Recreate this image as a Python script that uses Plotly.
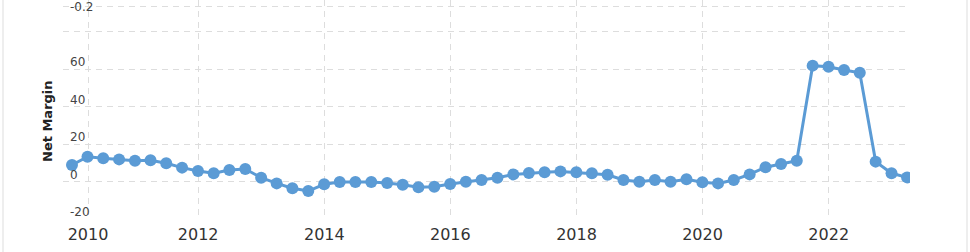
import plotly.graph_objects as go
import pandas as pd

# ---- data ----
dates = pd.date_range("2009-12-31", "2023-03-31", freq="QE").strftime("%Y-%m-%d").tolist()
net_margin = [
    8.8, 13.2, 12.4, 11.8, 11.1, 11.3, 9.7, 7.4, 5.6, 4.4, 6.1, 6.7, 2.0, -1.0,
    -3.6, -5.1, -1.5, -0.3, -0.3, -0.3, -0.8, -1.7, -3.1, -2.8, -1.3, -0.1, 0.8,
    2.0, 3.8, 4.5, 4.9, 5.4, 4.9, 4.4, 3.6, 0.8, -0.1, 0.8, -0.1, 1.2, -0.4, -1.0,
    0.8, 3.8, 7.6, 9.3, 11.1, 61.8, 61.2, 59.5, 58.0, 10.6, 4.4, 2.2,
]
x_tick_vals = ["2010-04-03", "2012-01-01", "2014-01-01", "2016-01-01",
               "2018-01-01", "2020-01-01", "2022-01-01"]
x_tick_text = ["2010", "2012", "2014", "2016", "2018", "2020", "2022"]
y_tick_vals = [-20, 0, 20, 40, 60, 80, 93.6]
y_tick_text = ["-20", "0", "20", "40", "60", "", "-0.2"]

W, H = 970, 252
L, R, T, B = 63, 910, 0, 219   # plot area in pixels
PW, PH = R - L, B - T

def px_x(p):
    return (p - L) / PW

def px_y(p):
    return (B - p) / PH

fig = go.Figure()
fig.add_trace(go.Scatter(
    x=dates, y=net_margin, mode="lines+markers",
    line=dict(color="#5b9bd5", width=3),
    marker=dict(color="#5b9bd5", size=12),
    hoverinfo="x+y",
))

annotations = []
for v, t in zip(y_tick_vals, y_tick_text):
    if not t:
        continue
    if v == y_tick_vals[-1]:
        # top label: keep it fully inside the page
        annotations.append(dict(
            x=px_x(68), xref="paper", xanchor="left",
            y=1, yref="paper", yanchor="top", yshift=2,
            text=t, showarrow=False,
            font=dict(family="DejaVu Sans", size=12, color="#444444"),
        ))
    else:
        annotations.append(dict(
            x=px_x(68), xref="paper", xanchor="left",
            y=v, yref="y", yanchor="middle", yshift=7,
            text=t, showarrow=False,
            font=dict(family="DejaVu Sans", size=12, color="#444444"),
        ))
annotations.append(dict(
    x=px_x(47), xref="paper", xanchor="center",
    y=px_y(121), yref="paper", yanchor="middle",
    text="<b>Net Margin</b>", textangle=-90, showarrow=False,
    font=dict(family="DejaVu Sans", size=13, color="#222222"),
))

shapes = [
    dict(type="line", xref="paper", yref="paper", x0=px_x(3), x1=px_x(3),
         y0=px_y(0), y1=px_y(H), line=dict(color="#dddddd", width=1)),
    dict(type="line", xref="paper", yref="paper", x0=px_x(967), x1=px_x(967),
         y0=px_y(0), y1=px_y(H), line=dict(color="#dddddd", width=1)),
]

fig.update_layout(
    width=W, height=H,
    margin=dict(l=L, r=W - R, t=T, b=H - B),
    paper_bgcolor="white", plot_bgcolor="white",
    showlegend=False,
    annotations=annotations,
    shapes=shapes,
    xaxis=dict(
        type="date",
        range=["2009-11-09", "2023-04-17"],
        tickmode="array", tickvals=x_tick_vals, ticktext=x_tick_text,
        showgrid=True, gridcolor="#dddddd", griddash="6px,5px", gridwidth=1,
        zeroline=False, showline=False, ticks="",
        tickfont=dict(family="DejaVu Sans", size=16, color="#333333"),
        ticklabelstandoff=4,
    ),
    yaxis=dict(
        range=[-20, (B - T) / 1.875 - 20],
        tickmode="array", tickvals=y_tick_vals,
        showticklabels=False,
        showgrid=True, gridcolor="#dddddd", griddash="6px,5px", gridwidth=1,
        zeroline=False, showline=False, ticks="",
    ),
)

fig.write_html("out.html")
